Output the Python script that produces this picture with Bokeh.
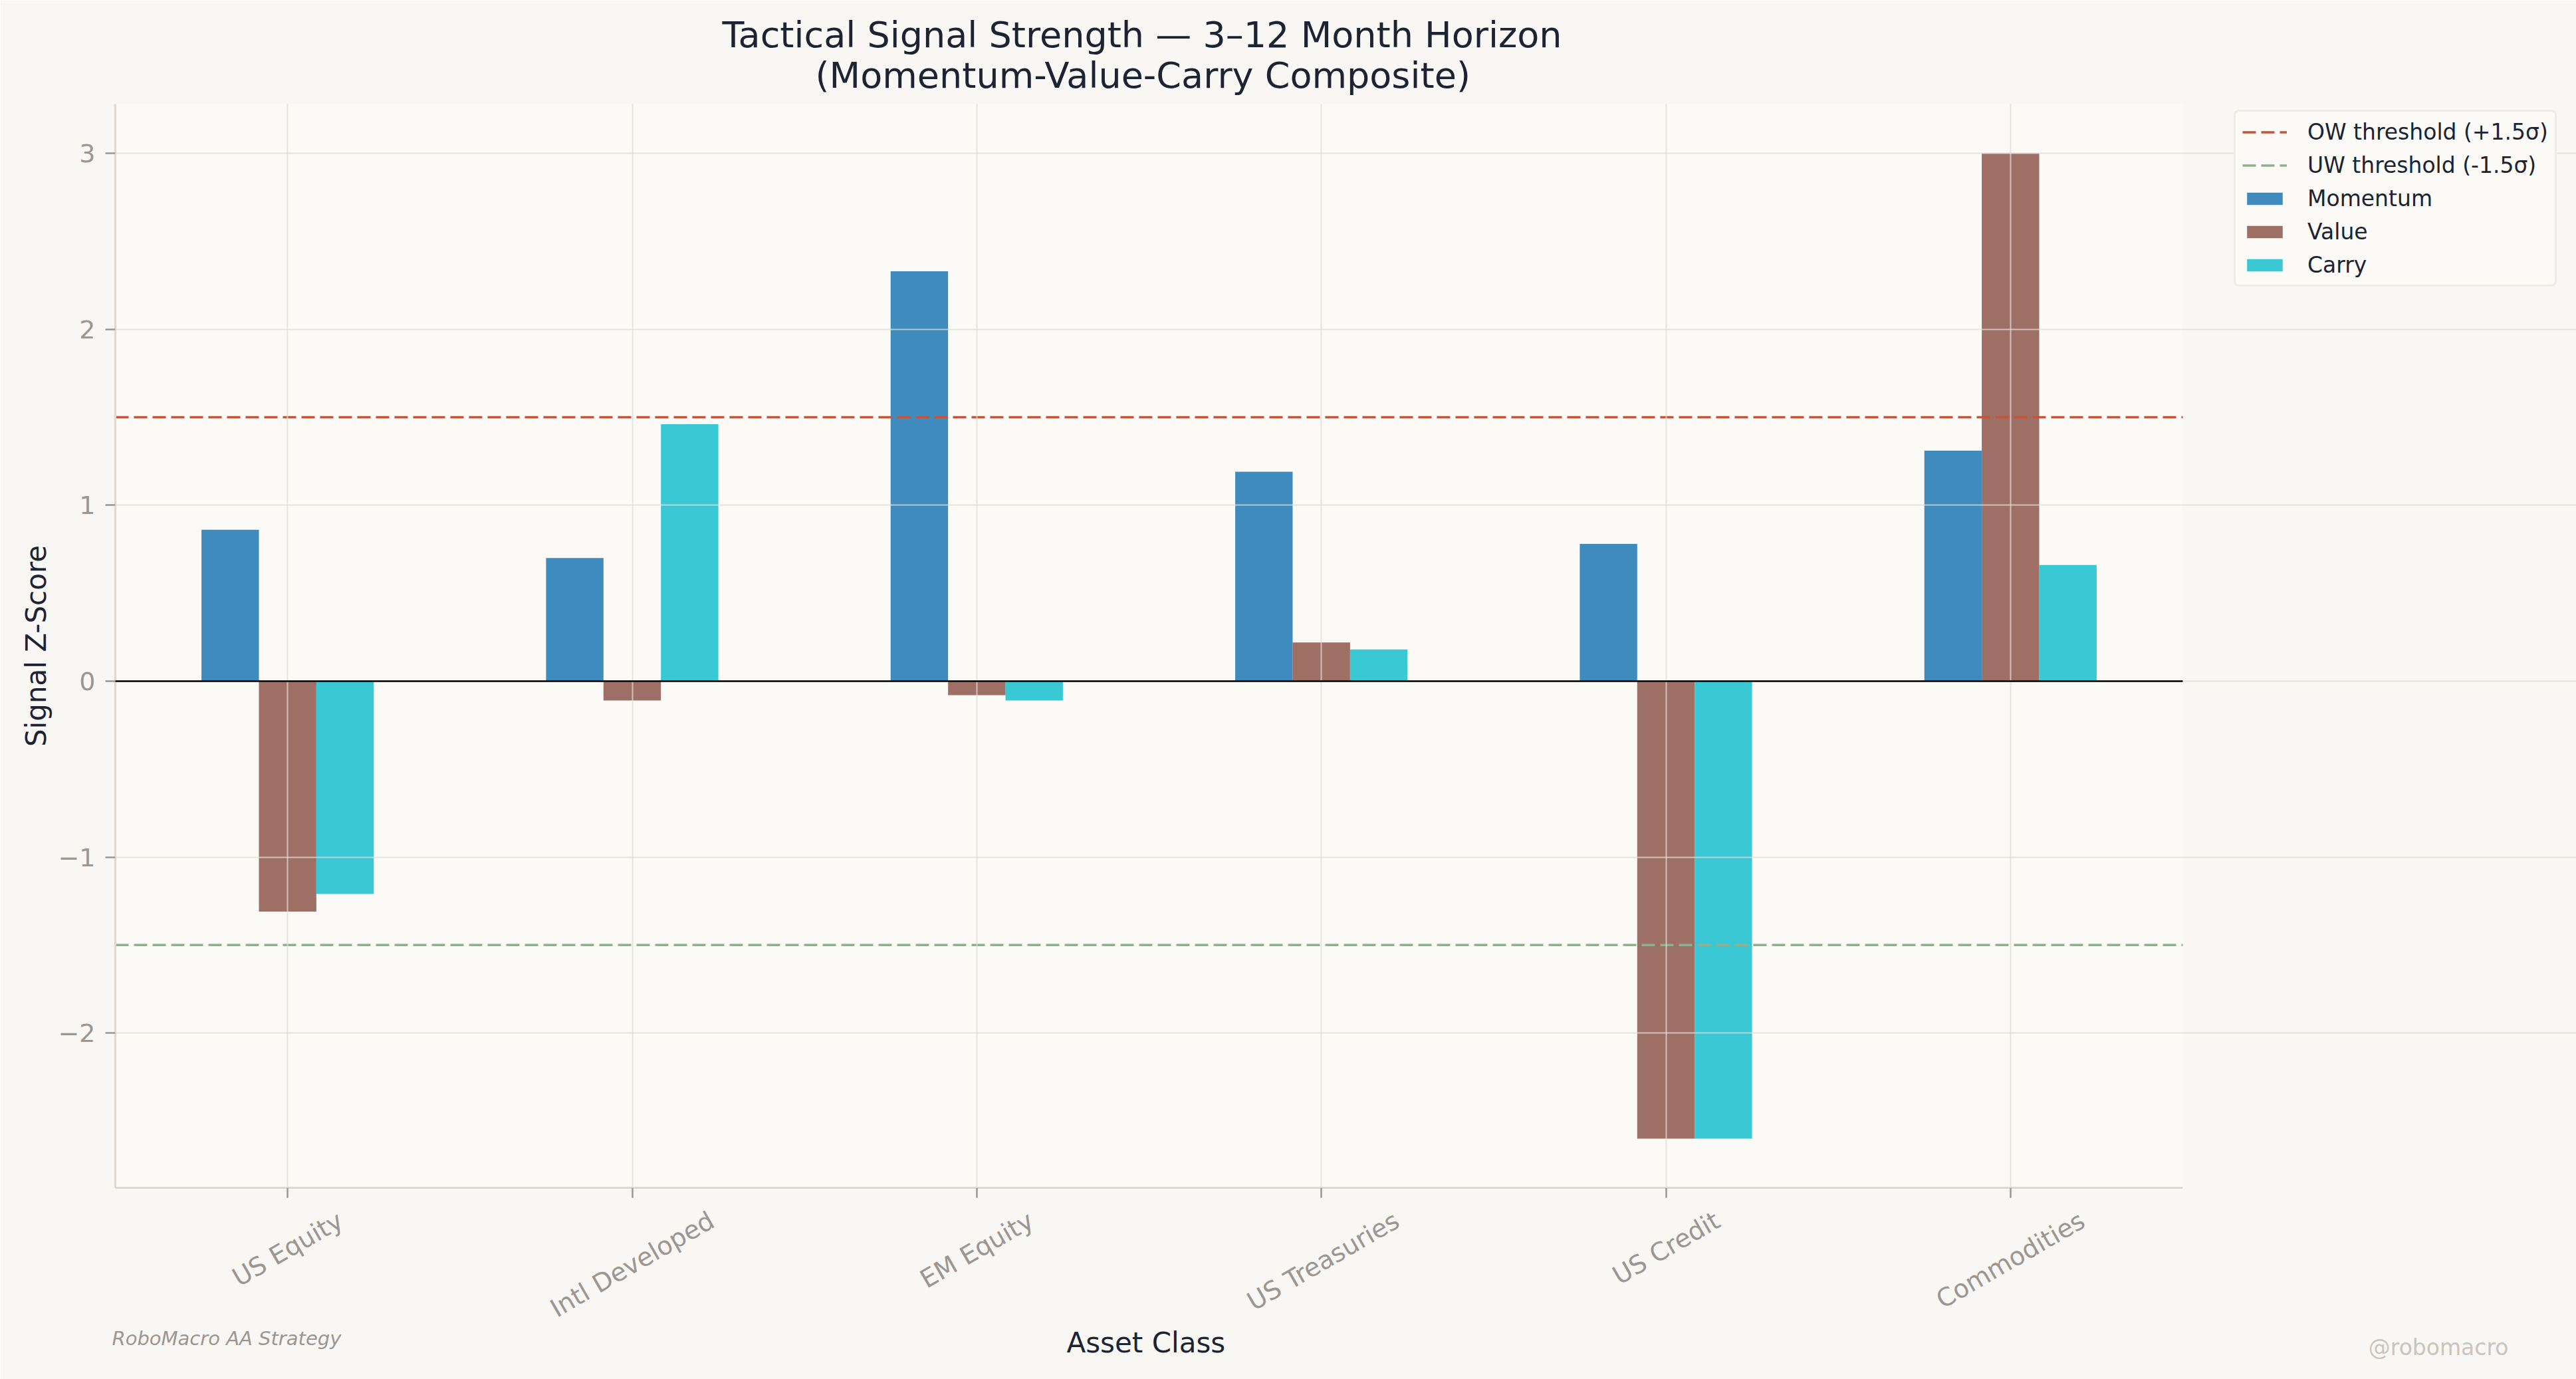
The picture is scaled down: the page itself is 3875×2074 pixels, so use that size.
import numpy as np
from bokeh.plotting import figure
from bokeh.models import (Range1d, FixedTicker, Title, Legend, LegendItem, LinearAxis,
                          BoxAnnotation)
from bokeh.embed import file_html
from bokeh.resources import INLINE

# ---- data ----
categories = ["US Equity", "Intl Developed", "EM Equity", "US Treasuries", "US Credit", "Commodities"]
momentum = [0.86, 0.70, 2.33, 1.19, 0.78, 1.31]
value_sig = [-1.31, -0.11, -0.08, 0.22, -2.60, 3.00]
carry = [-1.21, 1.46, -0.11, 0.18, -2.60, 0.66]
ow_threshold = 1.5
uw_threshold = -1.5
y_ticks = [-2, -1, 0, 1, 2, 3]
series_names = ["Momentum", "Value", "Carry"]

TITLE_1 = "Tactical Signal Strength \u2014 3\u201312 Month Horizon"
TITLE_2 = "(Momentum-Value-Carry Composite)"
X_LABEL = "Asset Class"
Y_LABEL = "Signal Z-Score"
SOURCE = "RoboMacro AA Strategy"
HANDLE = "@robomacro"

# ---- style ----
FONT = "DejaVu Sans"
W, H = 3875, 2074
FL, FR, FT, FB = 173, 3283, 156, 1786      # plot-area box (pixels)
BG = "#f8f7f3"
PLOT_BG = "#fbfaf7"
DARK = "#1c2333"
GREY = "#9b9691"
SPINE = "#ddd8d2"
COLORS = ["#1f77b4", "#8c564b", "#17becf"]
BAR_W = 0.5 / 3
TICK_FS = 38
TITLE_FS = 54
XLAB_FS = 42
SRC_FS = 29
HANDLE_FS = 33

n = len(categories)
X0, X1 = -0.5, n - 0.5
px_per_unit = (FR - FL) / (X1 - X0)
x_end = X0 + (W - FL) / px_per_unit      # frame runs to the right edge (legend lives there)
CX = (FL + FR) / 2                        # centre of the plot area

ymin = min(min(momentum), min(value_sig), min(carry), 0)
ymax = max(max(momentum), max(value_sig), max(carry), 0)
pad = 0.05 * (ymax - ymin)

# approximate DejaVu Sans advance widths (em), used only for text placement
ADV = {"U": .732, "S": .635, " ": .318, "E": .632, "q": .635, "u": .634, "i": .278,
       "t": .392, "y": .592, "I": .295, "n": .634, "l": .278, "D": .770, "e": .615,
       "v": .592, "o": .612, "p": .635, "d": .635, "M": .863, "T": .611, "r": .411,
       "a": .613, "s": .521, "C": .698, "m": .974, "(": .39, ")": .39, "-": .361,
       "V": .684, "\u2014": 1.0, "\u2013": .5, "1": .636, "2": .636, "3": .636,
       "H": .752, "z": .525, "h": .634, "g": .635, "c": .55, "A": .684, "R": .695,
       "b": .635, "@": 1.0}
def text_px(s, fs):
    return sum(ADV.get(c, 0.6) for c in s) * fs

label_ticks = [round(i + 0.433 * text_px(c, TICK_FS) / px_per_unit, 4)
               for i, c in enumerate(categories)]

p = figure(width=W, height=H, output_backend="svg", toolbar_location=None,
           x_range=Range1d(X0, x_end), y_range=Range1d(ymin - pad, ymax + pad),
           min_border_left=FL, min_border_right=0, min_border_top=FT,
           min_border_bottom=H - FB, title=None)
p.border_fill_color = BG
p.background_fill_color = BG
p.outline_line_color = None

# plot-area background
p.add_layout(BoxAnnotation(left=X0, right=X1, fill_color=PLOT_BG, fill_alpha=1,
                           line_alpha=0, level="underlay"))

xs = np.arange(n)
renderers = []
for i, (name, vals) in enumerate(zip(series_names, [momentum, value_sig, carry])):
    r = p.vbar(x=xs + (i - 1) * BAR_W, top=vals, bottom=0, width=BAR_W,
               fill_color=COLORS[i], fill_alpha=0.85, line_color=None)
    renderers.append(r)

# thresholds
ow = p.line(x=[X0, X1], y=[ow_threshold] * 2, line_color="#c4553a", line_width=3.5,
            line_dash="20 8")
uw = p.line(x=[X0, X1], y=[uw_threshold] * 2, line_color="#8fb08e", line_width=3.5,
            line_dash="20 8")

# grids (drawn above bars)
for g in (p.xgrid, p.ygrid):
    g.grid_line_color = "#e0dcd6"
    g.grid_line_alpha = 0.75
    g.grid_line_width = 2
    g.level = "guide"
p.xgrid.ticker = FixedTicker(ticks=list(range(n)))
p.ygrid.ticker = FixedTicker(ticks=y_ticks)
p.ygrid.bounds = (X0, X1)

# zero line
zl = p.line(x=[X0, X1], y=[0, 0], line_color="black", line_width=2.5)
zl.level = "annotation"

# y axis
p.yaxis.ticker = FixedTicker(ticks=y_ticks)
p.yaxis.major_label_overrides = {t: (str(t).replace("-", "\u2212")) for t in y_ticks}

# main x axis: spine + tick marks only
xa = p.xaxis[0]
xa.ticker = FixedTicker(ticks=list(range(n)))
xa.bounds = (X0, X1)
xa.major_label_overrides = {i: "" for i in range(n)}

for ax in (xa, p.yaxis[0]):
    ax.axis_line_color = SPINE
    ax.axis_line_width = 3
    ax.major_tick_line_color = GREY
    ax.major_tick_line_width = 2.5
    ax.major_tick_out = 15
    ax.major_tick_in = 0
    ax.minor_tick_line_color = None
    ax.major_label_text_font = FONT
    ax.major_label_text_font_size = f"{TICK_FS}px"
    ax.major_label_text_color = GREY
    ax.major_label_standoff = 15
    ax.axis_label_text_font = FONT
    ax.axis_label_text_font_size = f"{XLAB_FS}px"
    ax.axis_label_text_font_style = "normal"
    ax.axis_label_text_color = DARK
p.yaxis.axis_label = Y_LABEL
p.yaxis.axis_label_standoff = 5
xa.major_label_text_font_size = "0px"
xa.major_label_standoff = 0

# second x axis: rotated category labels centred on the ticks
xb = LinearAxis(ticker=FixedTicker(ticks=label_ticks), bounds=(X0, X1),
                major_label_overrides={t: c for t, c in zip(label_ticks, categories)})
xb.axis_line_color = None
xb.major_tick_line_color = None
xb.minor_tick_line_color = None
xb.major_tick_out = 0
xb.major_tick_in = 0
xb.major_label_orientation = np.pi / 6
xb.major_label_text_font = FONT
xb.major_label_text_font_size = f"{TICK_FS}px"
xb.major_label_text_color = GREY
xb.major_label_standoff = 31
p.add_layout(xb, "below")

# source note, left under the axis
p.add_layout(Title(text=SOURCE, align="left", text_font=FONT,
                   text_font_size=f"{SRC_FS}px", text_font_style="italic",
                   text_color=GREY, standoff=-35, offset=-5), "below")

# x axis title, centred on the plot area
p.add_layout(Title(text=X_LABEL, align="left", text_font=FONT,
                   text_font_size=f"{XLAB_FS}px", text_font_style="normal",
                   text_color=DARK, standoff=-39,
                   offset=round(CX - text_px(X_LABEL, XLAB_FS) / 2 - FL - 5)), "below")

# watermark, bottom right
p.add_layout(Title(text=HANDLE, align="right", text_font=FONT,
                   text_font_size=f"{HANDLE_FS}px", text_font_style="normal",
                   text_color="#c9c5bf", standoff=-39, offset=W - 5 - 3768), "below")

# titles (centred over the plot area)
t2 = Title(text=TITLE_2, align="left", text_font=FONT,
           text_font_size=f"{TITLE_FS}px", text_font_style="normal", text_color=DARK,
           standoff=23, offset=round(CX - text_px(TITLE_2, TITLE_FS) / 2 - FL - 5))
t1 = Title(text=TITLE_1, align="left",
           text_font=FONT, text_font_size=f"{TITLE_FS}px", text_font_style="normal",
           text_color=DARK, standoff=-31,
           offset=round(CX - text_px(TITLE_1, TITLE_FS) / 2 - FL - 5))
p.add_layout(t2, "above")
p.add_layout(t1, "above")

# legend
legend = Legend(items=[
    LegendItem(label="OW threshold (+1.5\u03c3)", renderers=[ow]),
    LegendItem(label="UW threshold (-1.5\u03c3)", renderers=[uw]),
    LegendItem(label=series_names[0], renderers=[renderers[0]]),
    LegendItem(label=series_names[1], renderers=[renderers[1]]),
    LegendItem(label=series_names[2], renderers=[renderers[2]]),
], location=(3360 - FL, FB - 431))
legend.border_line_color = "#e0dcd6"
legend.border_line_width = 3
legend.border_radius = 8
legend.background_fill_color = PLOT_BG
legend.background_fill_alpha = 1
legend.label_text_font = FONT
legend.label_text_font_size = "33px"
legend.label_text_color = DARK
legend.glyph_width = 67
legend.glyph_height = 23
legend.label_height = 40
legend.label_standoff = 31
legend.spacing = 10
legend.padding = 10
legend.margin = 0
p.add_layout(legend, "center")

open("out.html", "w").write(file_html(p, INLINE))
